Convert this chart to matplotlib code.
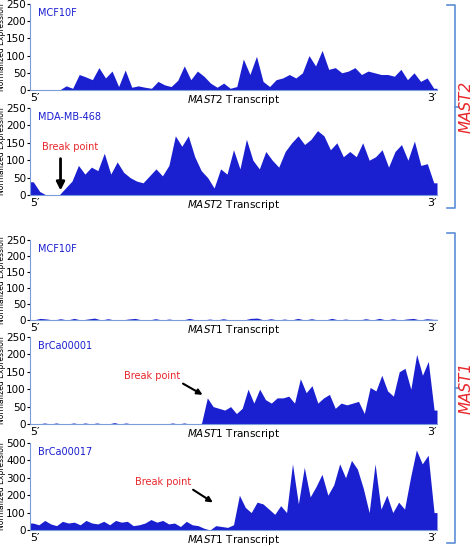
import matplotlib.pyplot as plt
import numpy as np

blue = '#1a1fd0'
red = '#e8262b'

mcf10f_mast2 = [0,0,0,0,0,12,5,45,38,30,65,35,55,10,58,8,12,8,5,25,15,10,28,70,30,55,40,20,8,20,
                5,10,90,45,98,25,10,30,35,45,35,50,100,70,115,60,65,50,55,65,45,55,50,45,45,40,
                60,30,50,25,35,5]
mda_mast2 = [38,10,0,0,0,20,40,85,60,80,70,120,60,95,65,50,40,35,55,75,55,85,170,140,170,110,70,
             50,20,75,60,130,75,160,100,75,125,100,80,125,150,170,145,160,185,170,130,150,110,
             125,110,150,100,110,130,80,125,145,100,155,85,90,35]
mcf10f_mast1 = [0,5,3,0,4,0,5,0,3,6,0,4,0,0,3,5,0,0,4,0,3,0,0,5,0,0,3,0,4,0,0,0,5,6,0,4,0,3,
                0,5,0,4,0,0,5,0,3,0,0,4,0,5,0,4,0,3,5,0,4,2]
brca1_mast1 = [0,0,3,0,3,0,0,3,0,3,0,3,0,0,4,0,3,0,0,0,0,0,0,0,3,0,3,0,0,2,
               75,50,45,40,50,30,45,100,60,100,70,60,75,75,80,60,130,90,110,60,75,85,45,60,
               55,60,65,30,105,95,140,95,80,150,160,100,200,140,180,40]
brca17_mast1 = [40,30,55,35,25,50,40,45,30,55,40,35,50,30,55,45,50,25,30,40,60,45,55,35,40,20,
                50,30,25,10,0,25,20,15,30,
                200,130,100,160,150,120,90,140,100,380,150,360,190,250,320,200,260,380,300,400,
                350,240,100,380,120,200,100,160,120,300,460,380,430,100]

panels = [
    ('MCF10F', mcf10f_mast2, 250, 'MAST2', None),
    ('MDA-MB-468', mda_mast2, 250, 'MAST2', 'down'),
    ('MCF10F', mcf10f_mast1, 250, 'MAST1', None),
    ('BrCa00001', brca1_mast1, 250, 'MAST1', 'diag'),
    ('BrCa00017', brca17_mast1, 500, 'MAST1', 'diag'),
]
# axes boxes in pixels (top, bottom)
boxes = [(4, 90), (108, 195), (240, 320), (337, 424), (443, 530)]
W, H = 474, 546
fig = plt.figure(figsize=(W / 100, H / 100), dpi=100)

for (name, vals, ymax, gene, arrow), (t, b) in zip(panels, boxes):
    ax = fig.add_axes([30 / W, 1 - b / H, 407 / W, (b - t) / H])
    v = np.array(vals, dtype=float)
    x = (np.arange(len(v)) + 0.5) / len(v)
    ax.fill_between(np.r_[0, x, 1], np.r_[v[0], v, v[-1]], color=blue, lw=0)
    ax.set_xlim(0, 1)
    ax.set_ylim(0, ymax)
    ax.set_yticks(np.arange(0, ymax + 1, ymax // 5))
    ax.tick_params(axis='y', labelsize=7.5, length=2, pad=1)
    ax.set_xticks([])
    for s in ['top', 'right']:
        ax.spines[s].set_visible(False)
    ax.spines['left'].set_color('#7a9cd8')
    ax.spines['bottom'].set_color('#7a9cd8')
    ax.set_ylabel('Normalized Expression', fontsize=5.5, labelpad=0)
    ax.text(0.02, 0.95, name, transform=ax.transAxes, color=blue, fontsize=7, va='top')
    ax.text(0, -0.04, "5\u2032", transform=ax.transAxes, fontsize=8, va='top', ha='left')
    ax.text(1, -0.04, "3\u2032", transform=ax.transAxes, fontsize=8, va='top', ha='right')
    ax.text(0.5, -0.04, '$\\it{' + gene + '}$ Transcript', transform=ax.transAxes,
            fontsize=7.5, va='top', ha='center')
    if arrow == 'down':
        ax.annotate('', xy=(0.075, 0.02), xytext=(0.075, 0.45), xycoords='axes fraction',
                    arrowprops=dict(arrowstyle='-|>', color='black', lw=2, mutation_scale=12))
        ax.text(0.03, 0.52, 'Break point', transform=ax.transAxes, color=red, fontsize=7)
    elif arrow == 'diag':
        bx = 0.43 if ymax == 250 else 0.455
        ax.annotate('', xy=(bx, 0.32 if ymax == 250 else 0.3), xytext=(bx - 0.06, 0.48),
                    xycoords='axes fraction',
                    arrowprops=dict(arrowstyle='-|>', color='black', lw=1.5, mutation_scale=8))
        ax.text(bx - 0.06, 0.52, 'Break point', transform=ax.transAxes, color=red,
                fontsize=7, ha='right')

# brackets on the right
bracket = '#5b8fd6'
def draw_bracket(y0, y1):
    ys = [1 - y0 / H, 1 - y1 / H]
    ym = (ys[0] + ys[1]) / 2
    x0, x1 = 447 / W, 455 / W
    fig.add_artist(plt.Line2D([x0, x1, x1, x0], [ys[0], ys[0], ys[1], ys[1]],
                              color=bracket, lw=1.2, transform=fig.transFigure))
    fig.add_artist(plt.Line2D([x1, x1 + 4 / W], [ym, ym], color=bracket, lw=1.2,
                              transform=fig.transFigure))
    return ym

m2 = draw_bracket(5, 208)
m1 = draw_bracket(233, 543)
fig.text(466 / W, m2, 'MAST2', color=red, rotation=90, fontsize=11, style='italic',
         va='center', ha='center')
fig.text(466 / W, m1, 'MAST1', color=red, rotation=90, fontsize=11, style='italic',
         va='center', ha='center')

fig.savefig('out.png', dpi=100)
